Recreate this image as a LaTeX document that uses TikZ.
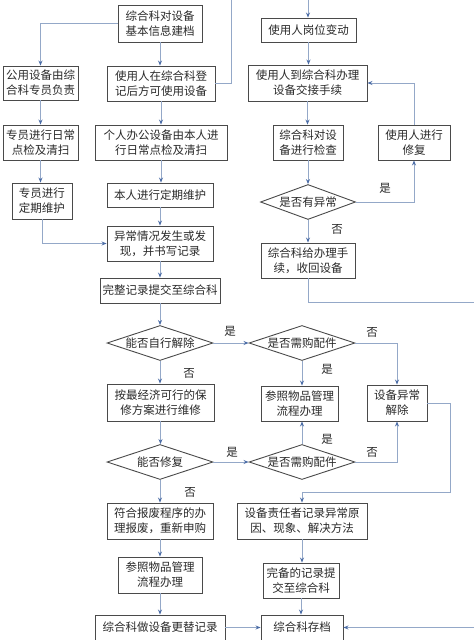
\documentclass[tikz,border=0pt]{standalone}
\usepackage{fontspec}
\newfontfamily\cjk{Noto Sans CJK SC}
\usetikzlibrary{arrows.meta,shapes.geometric}
\definecolor{boxgray}{HTML}{4A4A4A}
\definecolor{lineblue}{HTML}{94A8C8}
\definecolor{tipblue}{HTML}{4A6CA6}
\definecolor{txt}{HTML}{2A2A2A}
\begin{document}
\begin{tikzpicture}[x=1pt,y=-1pt,
  box/.style={draw=boxgray, line width=0.9pt, fill=white, align=center, inner sep=0pt,
    text=txt, font=\cjk\fontsize{11.5}{15}\selectfont},
  dia/.style={box, diamond, aspect=3},
  conn/.style={draw=lineblue, line width=0.9pt},
  arr/.style={conn, -{Stealth[length=5pt,width=4pt,color=tipblue]}},
  lbl/.style={text=txt, font=\cjk\fontsize{11.5}{15}\selectfont, inner sep=0pt}]
\useasboundingbox[fill=white] (0,0) rectangle (474,640);

% left column
\node[box, minimum width=84pt, minimum height=37pt] (jd) at (160,23.5) {综合科对设备\\基本信息建档};
\node[box, minimum width=75pt, minimum height=34pt] (gy) at (40.5,83) {公用设备由综\\合科专员负责};
\node[box, minimum width=108pt, minimum height=35pt] (syr) at (161,83.5) {使用人在综合科登\\记后方可使用设备};
\node[box, minimum width=75pt, minimum height=35pt] (zy1) at (40.5,142.5) {专员进行日常\\点检及清扫};
\node[box, minimum width=132pt, minimum height=35pt] (gr) at (161,142.5) {个人办公设备由本人进\\行日常点检及清扫};
\node[box, minimum width=60pt, minimum height=36pt] (zy2) at (42,201) {专员进行\\定期维护};
\node[box, minimum width=106pt, minimum height=24pt] (br) at (160,195) {本人进行定期维护};
\node[box, minimum width=106pt, minimum height=35pt] (yc) at (160,243.5) {异常情况发生或发\\现，并书写记录};
\node[box, minimum width=120pt, minimum height=25pt] (wz) at (160,290.5) {完整记录提交至综合科};
\node[dia, minimum width=106pt, minimum height=35pt] (d1) at (160,343) {能否自行解除};
\node[box, minimum width=107pt, minimum height=37pt] (wx) at (160.5,402.5) {按最经济可行的保\\修方案进行维修};
\node[dia, minimum width=106pt, minimum height=35pt] (d2) at (160,462) {能否修复};
\node[box, minimum width=106pt, minimum height=36pt] (bf) at (160,521) {符合报废程序的办\\理报废，重新申购};
\node[box, minimum width=84pt, minimum height=36pt] (ck1) at (160,575) {参照物品管理\\流程办理};
\node[box, minimum width=130pt, minimum height=25pt] (gt) at (160,627.5) {综合科做设备更替记录};

% right column
\node[box, minimum width=95pt, minimum height=24pt] (gw) at (308.5,30) {使用人岗位变动};
\node[box, minimum width=119pt, minimum height=36pt] (jj) at (307.5,83) {使用人到综合科办理\\设备交接手续};
\node[box, minimum width=70pt, minimum height=35pt] (jc) at (308,142.5) {综合科对设\\备进行检查};
\node[box, minimum width=72pt, minimum height=35pt] (xf) at (414,142.5) {使用人进行\\修复};
\node[dia, minimum width=95pt, minimum height=35pt] (d3) at (308,202) {是否有异常};
\node[box, minimum width=94pt, minimum height=35pt] (sh) at (308,260.5) {综合科给办理手\\续，收回设备};
\node[dia, minimum width=106pt, minimum height=35pt] (d4) at (302,343) {是否需购配件};
\node[box, minimum width=77pt, minimum height=35pt] (ck2) at (299.5,403.5) {参照物品管理\\流程办理};
\node[box, minimum width=60pt, minimum height=36pt] (jc2) at (397,403) {设备异常\\解除};
\node[dia, minimum width=106pt, minimum height=35pt] (d5) at (302,462) {是否需购配件};
\node[box, minimum width=130pt, minimum height=36pt] (zr) at (302,521) {设备责任者记录异常原\\因、现象、解决方法};
\node[box, minimum width=76pt, minimum height=35pt] (wb) at (301,580.5) {完备的记录提\\交至综合科};
\node[box, minimum width=82pt, minimum height=25pt] (cd) at (302,627.5) {综合科存档};

% free ends
\coordinate (topA) at (231,0);
\coordinate (topB) at (308,0);
\coordinate (rightA) at (474,302);
\coordinate (rightB) at (474,627.5);
\coordinate (c1) at (450,492);

% connectors left
\draw[arr] (jd.west) -| (gy.north);
\draw[arr] (jd.south) -- (jd.south |- syr.north);
\draw[conn] (syr.east) -| (topA);
\draw[arr] (gy.south) -- (gy.south |- zy1.north);
\draw[arr] (syr.south) -- (syr.south |- gr.north);
\draw[arr] (zy1.south) -- (zy1.south |- zy2.north);
\draw[arr] (gr.south) -- (gr.south |- br.north);
\draw[arr] (br.south) -- (br.south |- yc.north);
\draw[arr] (zy2.south) |- (yc.west);
\draw[arr] (yc.south) -- (yc.south |- wz.north);
\draw[arr] (wz.south) -- (wz.south |- d1.north);
\draw[arr] (d1.east) -- (d4.west);
\draw[arr] (d4.south) -- (d4.south |- ck2.north);
\draw[arr] (d4.east) -| (jc2.north);
\draw[arr] (d1.south) -- (d1.south |- wx.north);
\draw[arr] (wx.south) -- (wx.south |- d2.north);
\draw[arr] (d2.east) -- (d5.west);
\draw[arr] (d5.north) -- (d5.north |- ck2.south);
\draw[arr] (d5.east) -| (jc2.south);
\draw[arr] (d2.south) -- (d2.south |- bf.north);
\draw[arr] (bf.south) -- (bf.south |- ck1.north);
\draw[arr] (ck1.south) -- (ck1.south |- gt.north);
\draw[arr] (gt.east) -- (cd.west);
\draw[arr] (jc2.east) -| (c1) -| (zr.north);
\draw[arr] (zr.south) -- (zr.south |- wb.north);
\draw[arr] (wb.south) -- (wb.south |- cd.north);
\draw[arr] (rightB) -- (cd.east);

% connectors right top
\draw[arr] (topB) -- (topB |- gw.north);
\draw[arr] (gw.south) -- (gw.south |- jj.north);
\draw[arr] (jj.south) -- (jj.south |- jc.north);
\draw[arr] (jc.south) -- (jc.south |- d3.north);
\draw[arr] (d3.east) -| (xf.south);
\draw[arr] (xf.north) |- (jj.east);
\draw[arr] (d3.south) -- (d3.south |- sh.north);
\draw[conn] (sh.south) |- (rightA);

% labels
\node[lbl] (l1) at (385,188) {是};
\node[lbl] (l2) at (337,229) {否};
\node[lbl] (l3) at (230,331) {是};
\node[lbl] (l4) at (372,332) {否};
\node[lbl] (l5) at (327,369) {是};
\node[lbl] (l6) at (189,373) {否};
\node[lbl] (l7) at (232,452) {是};
\node[lbl] (l8) at (327,439) {是};
\node[lbl] (l9) at (372,452) {否};
\node[lbl] (l10) at (190,492) {否};
\end{tikzpicture}
\end{document}
